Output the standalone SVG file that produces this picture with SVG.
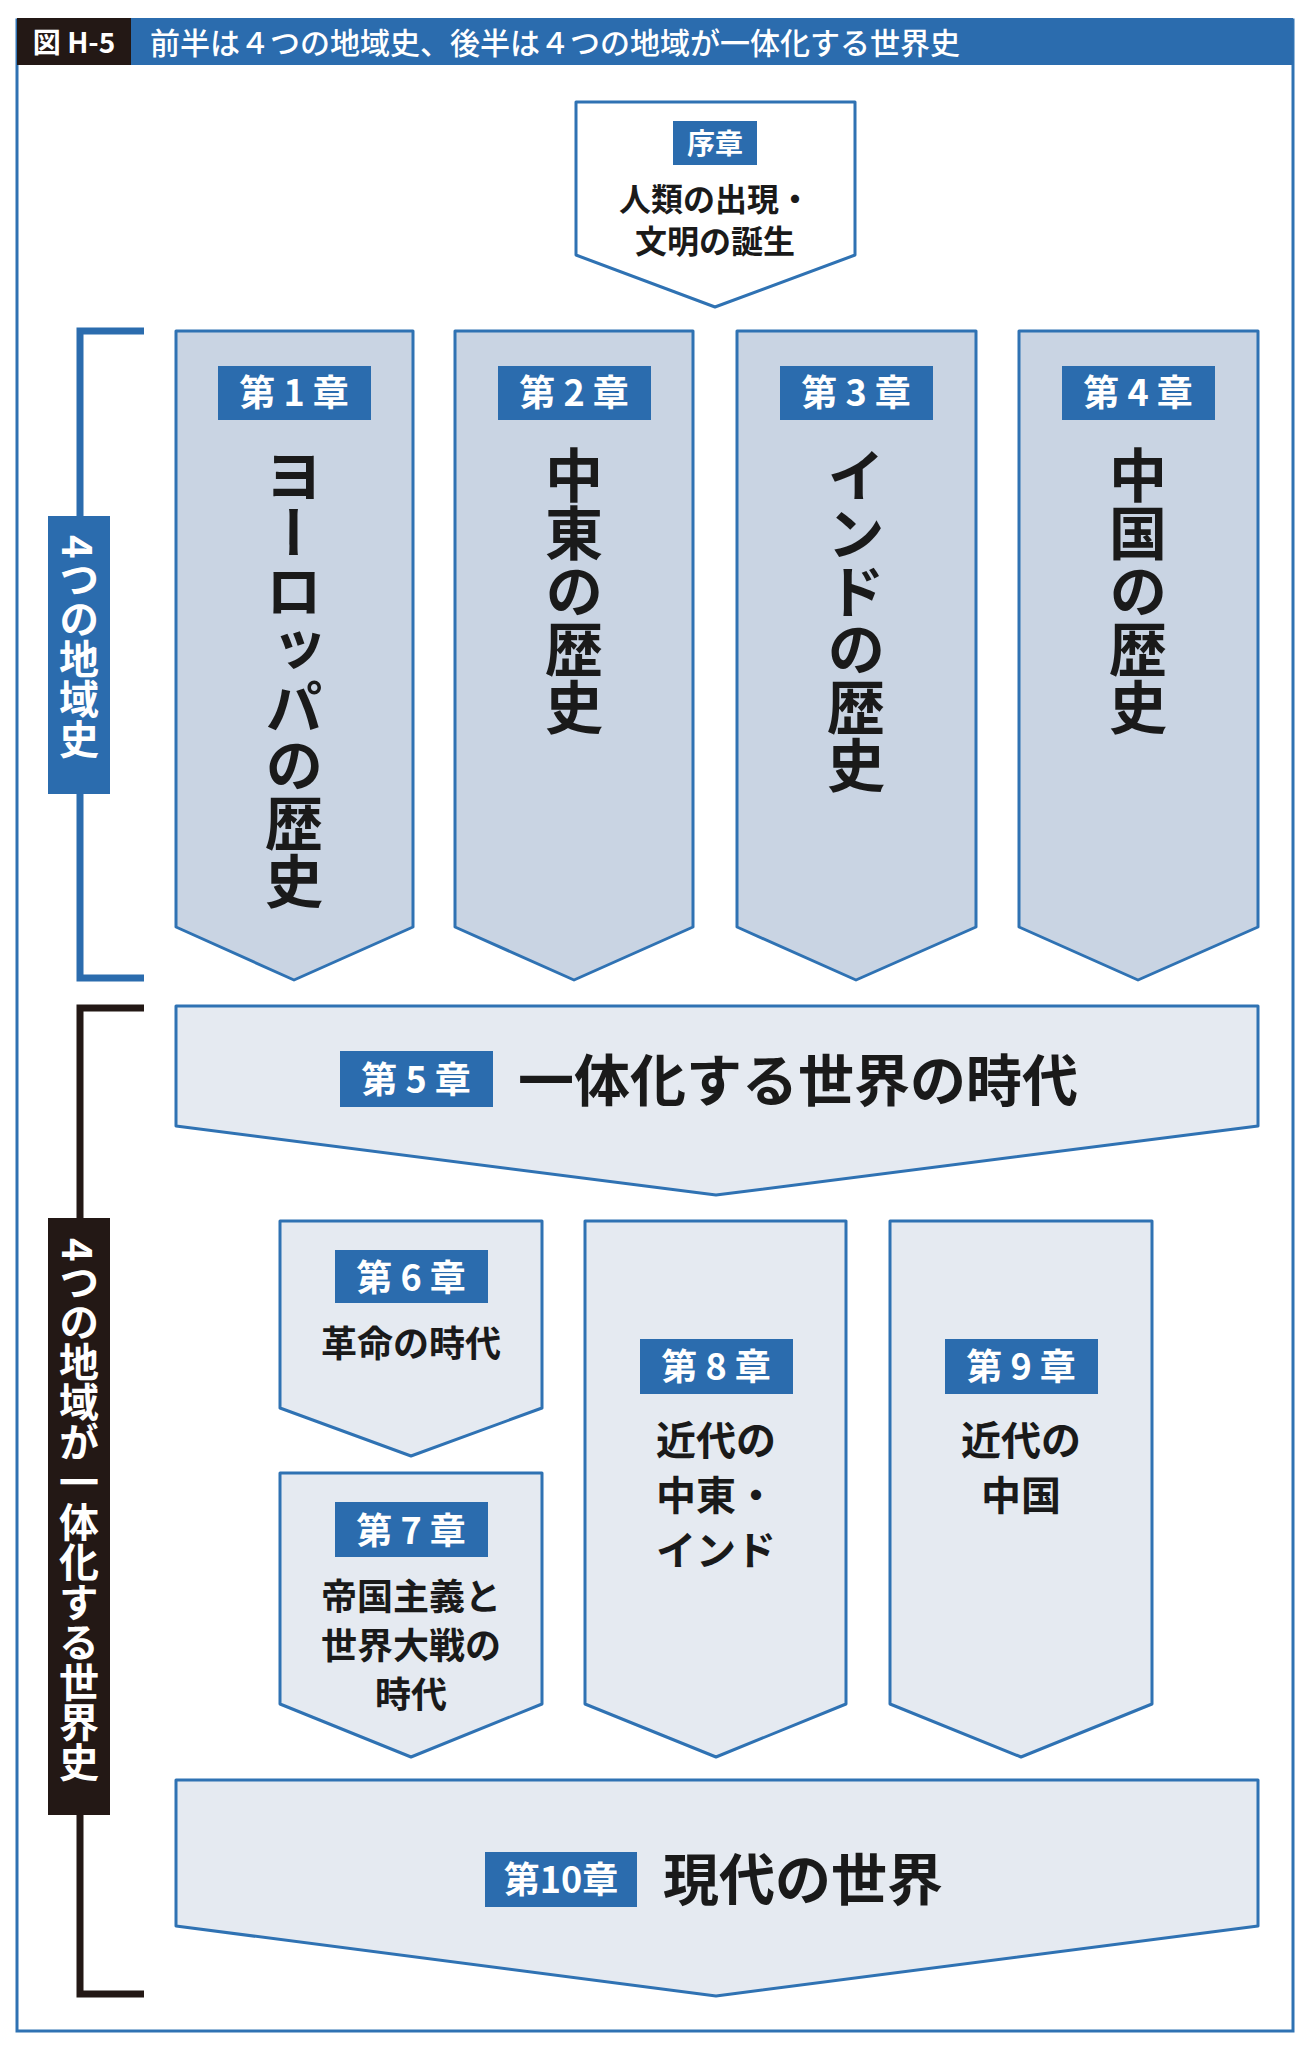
<svg xmlns="http://www.w3.org/2000/svg" width="1306" height="2048" viewBox="0 0 1306 2048">
<style>
text{font-family:"Noto Sans CJK JP","Noto Sans",sans-serif;font-weight:bold;fill:#1a1a1a}
.d{fill:#c9d4e3;stroke:#2f72b3;stroke-width:3;stroke-linejoin:round}
.l{fill:#e5eaf1;stroke:#2f72b3;stroke-width:3;stroke-linejoin:round}
.w{fill:#fff;stroke:#2f72b3;stroke-width:3;stroke-linejoin:round}
.tag{fill:#2b6cae}
.tt{fill:#fff;text-anchor:middle}
.c{text-anchor:middle}
.v{writing-mode:vertical-rl;text-anchor:start;font-size:58px}
</style>
<rect x="0" y="0" width="1306" height="2048" fill="#fff"/>
<rect x="17" y="20" width="1276" height="2011" fill="none" stroke="#2f72b3" stroke-width="3"/>
<rect x="17" y="18" width="1276" height="47" fill="#2b6cae"/>
<rect x="17" y="18" width="114" height="47" fill="#231815"/>
<text x="74" y="53" class="tt" font-size="28">図 H-5</text>
<text x="150" y="54" font-size="30" style="fill:#fff;font-weight:500">前半は４つの地域史、後半は４つの地域が一体化する世界史</text>

<g id="brackets">
<path d="M144 331 H80 V978 H144" fill="none" stroke="#2b6cae" stroke-width="7"/>
<rect x="48" y="516" width="62" height="278" fill="#2b6cae"/>
<text x="79" y="535" class="v" style="font-size:40px;fill:#fff">4つの地域史</text>
<path d="M144 1008 H80 V1994 H144" fill="none" stroke="#231815" stroke-width="7"/>
<rect x="48" y="1218" width="62" height="597" fill="#231815"/>
<text x="79" y="1238" class="v" style="font-size:40px;fill:#fff">4つの地域が一体化する世界史</text>
</g>

<g id="ch0">
<path class="w" d="M576 102 H855 V255 L715 307 L576 255 Z"/>
<rect class="tag" x="673" y="121" width="84" height="44"/>
<text x="715" y="154" class="tt" font-size="28">序章</text>
<text x="715" y="211" class="c" font-size="32">人類の出現・</text>
<text x="715" y="253" class="c" font-size="32">文明の誕生</text>
</g>

<g id="ch1">
<path class="d" d="M176 331 H413 V927 L294 980 L176 927 Z"/>
<rect class="tag" x="218" y="366" width="153" height="54"/>
<text x="294" y="406" class="tt" font-size="36">第 1 章</text>
<text x="294" y="446" class="v">ヨーロッパの歴史</text>
</g>
<g id="ch2">
<path class="d" d="M455 331 H693 V927 L574 980 L455 927 Z"/>
<rect class="tag" x="498" y="366" width="153" height="54"/>
<text x="574" y="406" class="tt" font-size="36">第 2 章</text>
<text x="574" y="446" class="v">中東の歴史</text>
</g>
<g id="ch3">
<path class="d" d="M737 331 H976 V927 L856 980 L737 927 Z"/>
<rect class="tag" x="780" y="366" width="153" height="54"/>
<text x="856" y="406" class="tt" font-size="36">第 3 章</text>
<text x="856" y="446" class="v">インドの歴史</text>
</g>
<g id="ch4">
<path class="d" d="M1019 331 H1258 V927 L1138 980 L1019 927 Z"/>
<rect class="tag" x="1062" y="366" width="153" height="54"/>
<text x="1138" y="406" class="tt" font-size="36">第 4 章</text>
<text x="1138" y="446" class="v">中国の歴史</text>
</g>

<g id="ch5">
<path class="l" d="M176 1006 H1258 V1126 L716 1195 L176 1126 Z"/>
<rect class="tag" x="340" y="1051" width="153" height="56"/>
<text x="416" y="1093" class="tt" font-size="36">第 5 章</text>
<text x="518" y="1101" font-size="56">一体化する世界の時代</text>
</g>

<g id="ch6">
<path class="l" d="M280 1221 H542 V1408 L411 1456 L280 1408 Z"/>
<rect class="tag" x="335" y="1250" width="153" height="53"/>
<text x="411" y="1291" class="tt" font-size="36">第 6 章</text>
<text x="411" y="1357" class="c" font-size="36">革命の時代</text>
</g>
<g id="ch7">
<path class="l" d="M280 1473 H542 V1704 L411 1757 L280 1704 Z"/>
<rect class="tag" x="335" y="1502" width="153" height="55"/>
<text x="411" y="1544" class="tt" font-size="36">第 7 章</text>
<text x="411" y="1610" class="c" font-size="36">帝国主義と</text>
<text x="411" y="1659" class="c" font-size="36">世界大戦の</text>
<text x="411" y="1708" class="c" font-size="36">時代</text>
</g>
<g id="ch8">
<path class="l" d="M585 1221 H846 V1704 L716 1757 L585 1704 Z"/>
<rect class="tag" x="640" y="1339" width="153" height="55"/>
<text x="716" y="1380" class="tt" font-size="36">第 8 章</text>
<text x="716" y="1455" class="c" font-size="40">近代の</text>
<text x="716" y="1510" class="c" font-size="40">中東・</text>
<text x="716" y="1565" class="c" font-size="40">インド</text>
</g>
<g id="ch9">
<path class="l" d="M890 1221 H1152 V1704 L1021 1757 L890 1704 Z"/>
<rect class="tag" x="945" y="1339" width="153" height="55"/>
<text x="1021" y="1380" class="tt" font-size="36">第 9 章</text>
<text x="1021" y="1455" class="c" font-size="40">近代の</text>
<text x="1021" y="1510" class="c" font-size="40">中国</text>
</g>

<g id="ch10">
<path class="l" d="M176 1780 H1258 V1926 L716 1996 L176 1926 Z"/>
<rect class="tag" x="485" y="1852" width="152" height="55"/>
<text x="561" y="1893" class="tt" font-size="36">第10章</text>
<text x="663" y="1900" font-size="56">現代の世界</text>
</g>
<g id="connectors"></g>
</svg>
